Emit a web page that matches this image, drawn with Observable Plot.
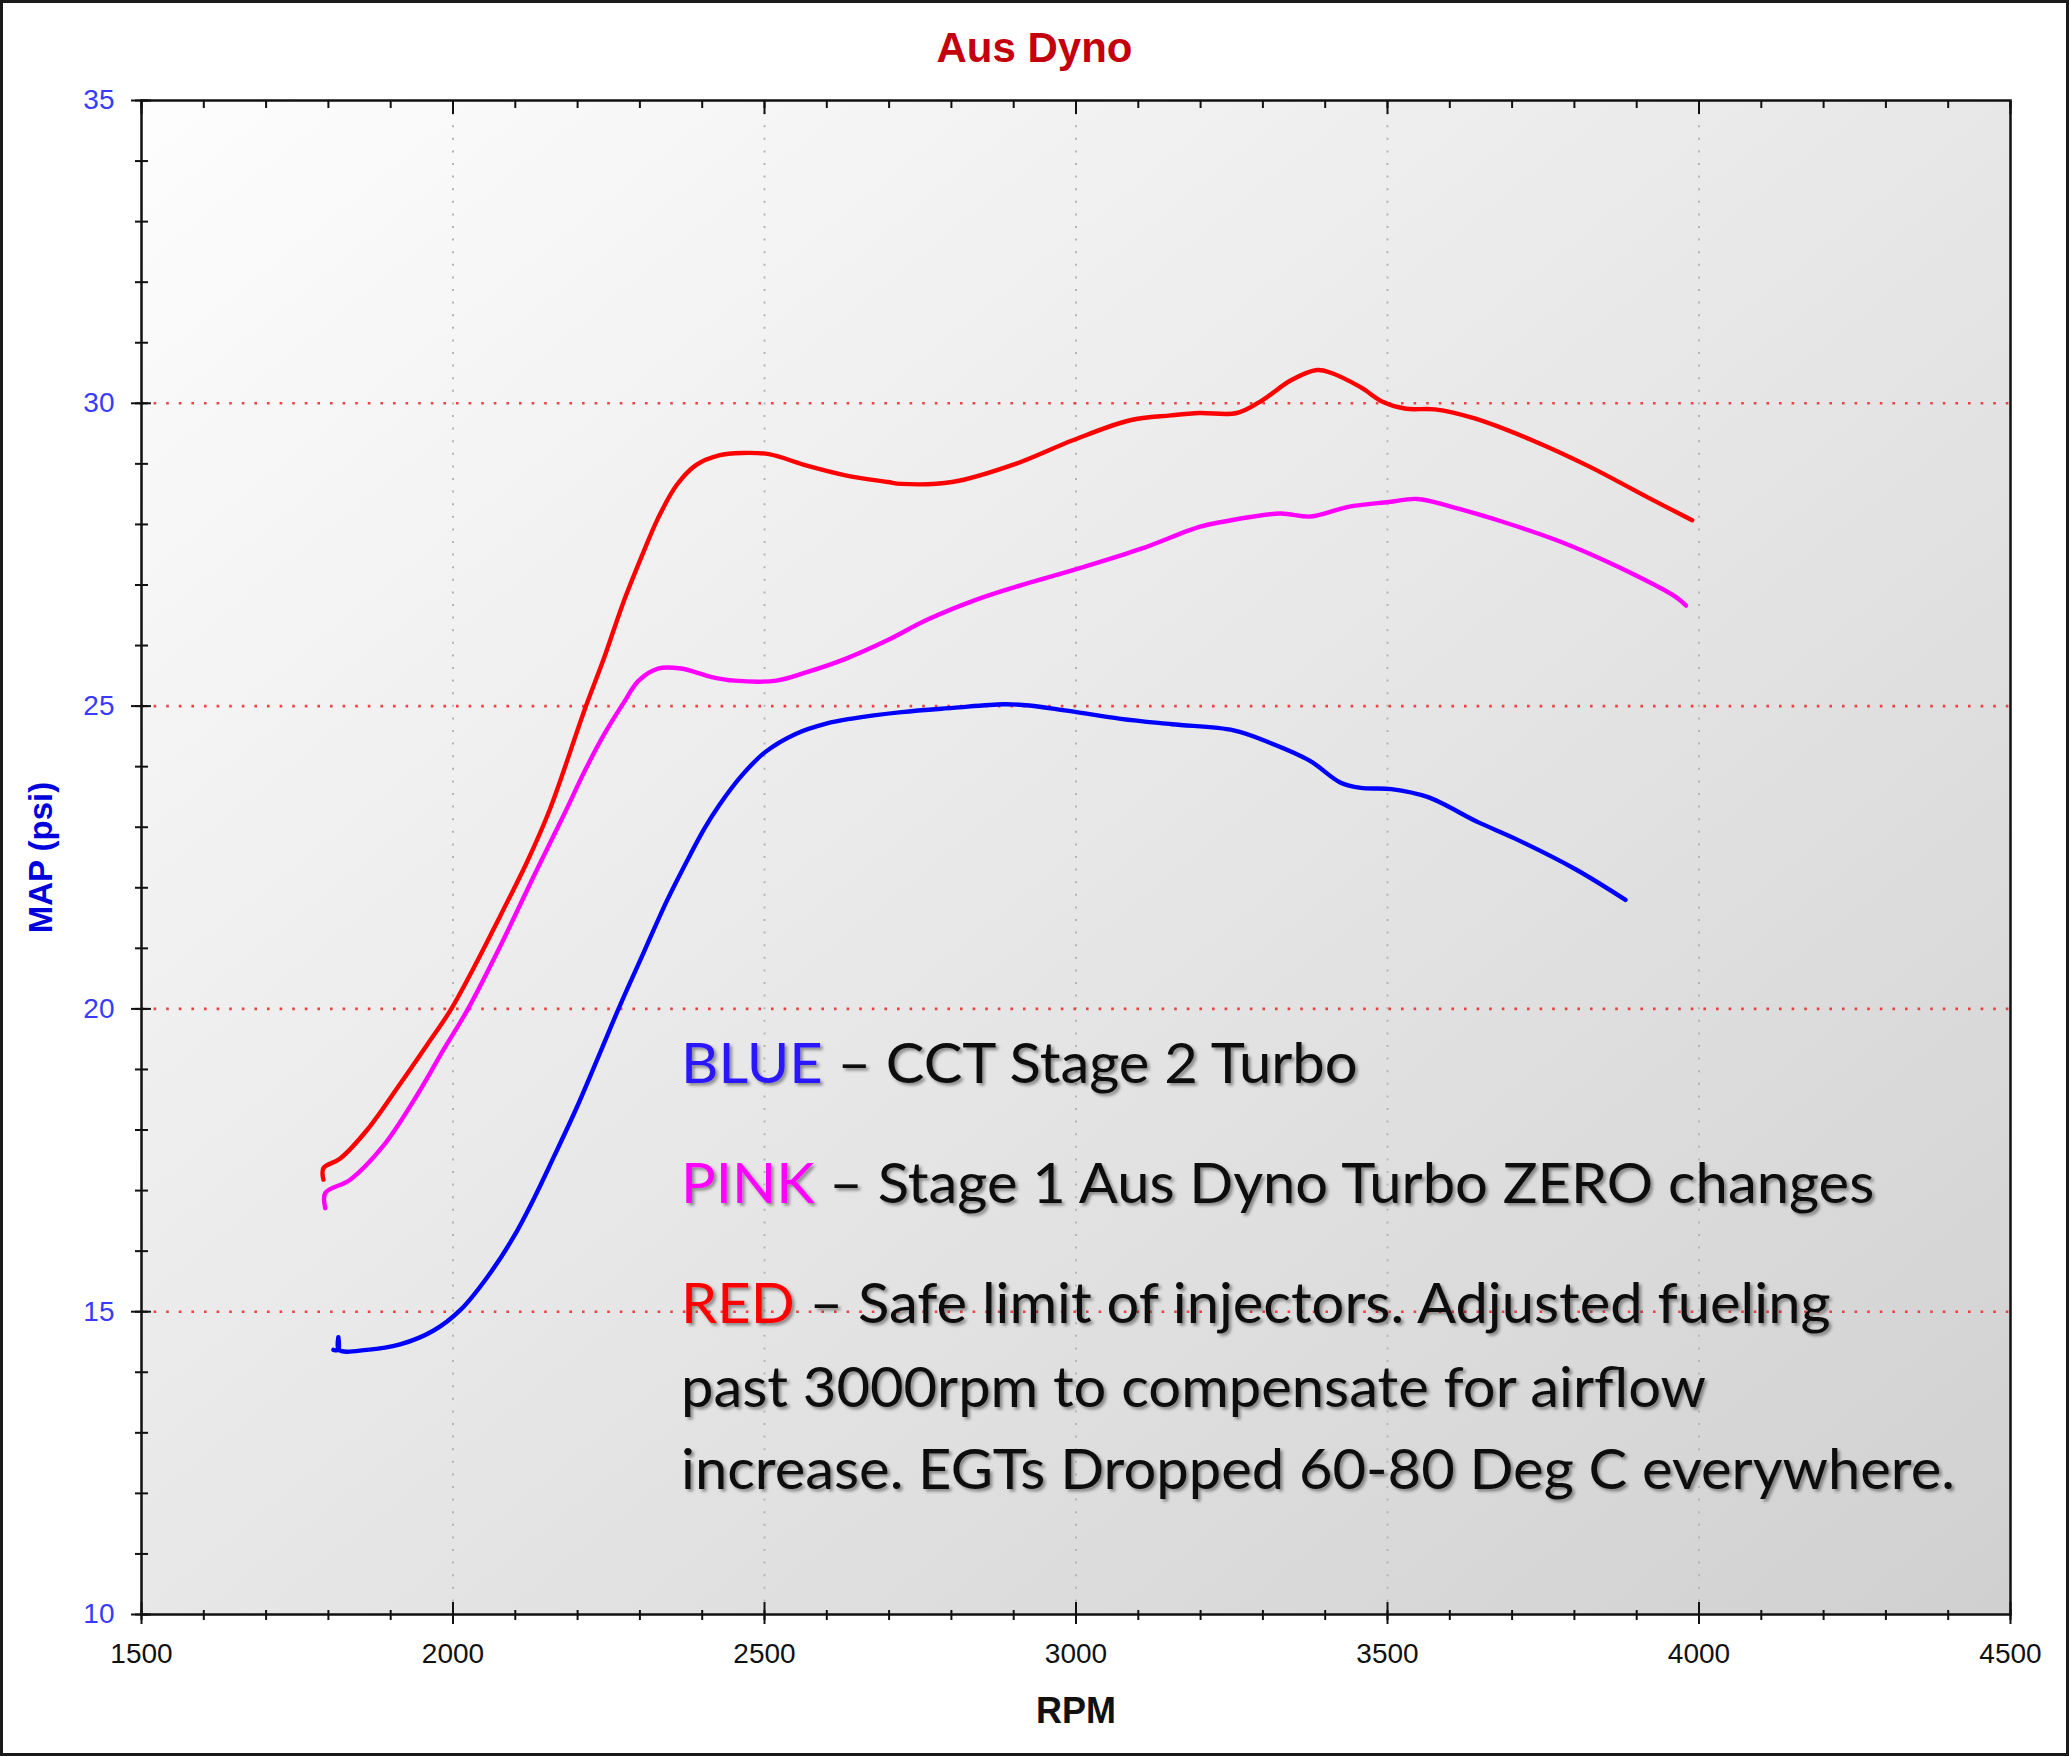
<!DOCTYPE html>
<html><head><meta charset="utf-8">
<script src="https://cdn.jsdelivr.net/npm/d3@7"></script>
<script src="https://cdn.jsdelivr.net/npm/@observablehq/plot@0.6"></script>
<style>
html,body{margin:0;padding:0;background:#fff;overflow:hidden;}
#wrap{position:relative;width:2069px;height:1756px;background:#fff;}
#title{position:absolute;top:27px;left:0;width:2069px;text-align:center;font:bold 42px "Liberation Sans",Arial,sans-serif;line-height:1;color:#c4000c;}
#chart{position:absolute;top:80px;left:0;}
#border{position:absolute;left:0;top:0;width:2069px;height:1756px;box-sizing:border-box;border:3px solid #1a1a1a;pointer-events:none;}
</style></head><body>
<div id="wrap"><div id="title">Aus Dyno</div><div id="chart"></div><div id="border"></div></div>
<script>
// ---- data (RPM, MAP psi) ----
const blueRun = [[1808,14.37],[1816,14.37],[1816,14.58],[1817,14.37],[1862,14.37],[1915,14.46],[1969,14.69],[2012,15.03],[2055,15.57],[2097,16.23],[2130,16.87],[2162,17.56],[2199,18.38],[2237,19.30],[2269,20.08],[2306,20.93],[2344,21.80],[2381,22.55],[2403,22.97],[2427,23.36],[2464,23.86],[2501,24.24],[2550,24.54],[2599,24.71],[2638,24.79],[2720,24.90],[2802,24.97],[2884,25.03],[2925,25.01],[2982,24.93],[3072,24.79],[3154,24.70],[3253,24.60],[3310,24.40],[3375,24.10],[3424,23.74],[3457,23.65],[3506,23.63],[3564,23.50],[3646,23.08],[3703,22.82],[3801,22.31],[3882,21.80]];
const pinkRun = [[1795,16.71],[1795,16.96],[1835,17.18],[1889,17.75],[1942,18.57],[1985,19.33],[2023,19.98],[2076,21.04],[2130,22.20],[2151,22.64],[2181,23.27],[2212,23.94],[2243,24.54],[2273,25.04],[2298,25.42],[2329,25.62],[2366,25.62],[2415,25.48],[2452,25.42],[2519,25.42],[2568,25.56],[2630,25.78],[2698,26.09],[2760,26.42],[2838,26.75],[2903,26.97],[3013,27.30],[3105,27.60],[3198,27.96],[3234,28.04],[3327,28.18],[3377,28.13],[3437,28.29],[3502,28.37],[3548,28.42],[3603,28.29],[3686,28.04],[3779,27.71],[3870,27.30],[3963,26.80],[3979,26.66]];
const redRun = [[1792,17.18],[1792,17.37],[1819,17.53],[1862,18.0],[1915,18.76],[1958,19.40],[1996,19.98],[2039,20.79],[2076,21.54],[2119,22.43],[2156,23.31],[2212,24.96],[2243,25.81],[2273,26.70],[2304,27.50],[2329,28.10],[2359,28.65],[2390,28.98],[2427,29.14],[2464,29.18],[2507,29.16],[2568,28.97],[2630,28.81],[2698,28.70],[2719,28.67],[2801,28.70],[2903,29.0],[2995,29.39],[3087,29.72],[3152,29.80],[3198,29.84],[3258,29.84],[3299,30.05],[3345,30.38],[3387,30.55],[3410,30.50],[3456,30.27],[3493,30.02],[3530,29.91],[3576,29.90],[3640,29.75],[3732,29.39],[3825,28.95],[3917,28.45],[3989,28.07]];

const xTicks = [1500,2000,2500,3000,3500,4000,4500];
const xMinorTicks = d3.range(1500, 4501, 100);
const xGridLines = [2000,2500,3000,3500,4000];
const yTicks = [10,15,20,25,30,35];
const yMinorTicks = d3.range(10, 36, 1);
const yGridLines = [15,20,25,30];

const seriesColors = {blue: "#0000ff", pink: "#ff00ff", red: "#ff0000"};

const notes = [
  [{t: "BLUE", c: "#2a14ff"}, {t: " \u2013 CCT Stage 2 Turbo", c: "#111"}],
  [{t: "PINK", c: "#ff00ff"}, {t: " \u2013 Stage 1 Aus Dyno Turbo ZERO changes", c: "#111"}],
  [{t: "RED", c: "#ff0000"}, {t: " \u2013 Safe limit of injectors. Adjusted fueling", c: "#111"}],
  [{t: "past 3000rpm to compensate for airflow", c: "#111"}],
  [{t: "increase. EGTs Dropped 60-80 Deg C everywhere.", c: "#111"}]
];

const rows = (pairs) => pairs.map(([rpm, psi]) => ({rpm, psi}));
const font = '"Liberation Sans", Arial, sans-serif';
const plain = d => String(d);

const chart = Plot.plot({
  width: 2069, height: 1676,
  marginTop: 20, marginRight: 59, marginBottom: 142, marginLeft: 141,
  x: {domain: [1500, 4500], label: null},
  y: {domain: [10, 35], label: null},
  style: {fontFamily: font, background: "transparent", overflow: "visible"},
  marks: [
    Plot.frame({fill: "url(#bgGrad)"}),
    Plot.gridX(xGridLines, {stroke: "#b5b5b5", strokeOpacity: 1, strokeWidth: 2, strokeDasharray: "2,10.6"}),
    Plot.gridY(yGridLines, {stroke: "#ee3030", strokeOpacity: 0.9, strokeWidth: 2.6, strokeDasharray: "2.6,10"}),
    Plot.line(rows(blueRun), {x: "rpm", y: "psi", stroke: seriesColors.blue, strokeWidth: 4.4, curve: "catmull-rom"}),
    Plot.line(rows(pinkRun), {x: "rpm", y: "psi", stroke: seriesColors.pink, strokeWidth: 4.4, curve: "catmull-rom"}),
    Plot.line(rows(redRun), {x: "rpm", y: "psi", stroke: seriesColors.red, strokeWidth: 4.4, curve: "catmull-rom"}),
    Plot.axisX(xMinorTicks, {anchor: "bottom", tickSize: 10, dy: -4, fill: "none", stroke: "#111", strokeWidth: 2, label: null}),
    Plot.axisX(xTicks, {anchor: "bottom", tickSize: 22, dy: -12, fill: "none", stroke: "#111", strokeWidth: 2, label: null}),
    Plot.axisX(xTicks, {anchor: "bottom", tickSize: 0, tickPadding: 29, fontSize: 28, fill: "#111", tickFormat: plain, label: null}),
    Plot.axisX(xMinorTicks, {anchor: "top", tickSize: 7, dy: 7, fill: "none", stroke: "#111", strokeWidth: 2, label: null}),
    Plot.axisX(xTicks, {anchor: "top", tickSize: 13, dy: 13, fill: "none", stroke: "#111", strokeWidth: 2, label: null}),
    Plot.axisY(yMinorTicks, {anchor: "left", tickSize: 13, dx: 7, fill: "none", stroke: "#111", strokeWidth: 2, label: null}),
    Plot.axisY(yTicks, {anchor: "left", tickSize: 20, dx: 10, fill: "none", stroke: "#111", strokeWidth: 2, label: null}),
    Plot.axisY(yTicks, {anchor: "left", tickSize: 0, tickPadding: 27, fontSize: 28, fill: "#3a3aff", tickFormat: plain, label: null}),
    Plot.frame({stroke: "#111", strokeWidth: 2.5}),
    Plot.text(["RPM"], {text: d => d, frameAnchor: "bottom", dy: 97, textAnchor: "middle", lineAnchor: "middle", fontSize: 36, fontWeight: "bold", fill: "#111"}),
    Plot.text(["MAP (psi)"], {text: d => d, frameAnchor: "left", dx: -100, rotate: -90, textAnchor: "middle", lineAnchor: "middle", fontSize: 33, fontWeight: "bold", fill: "#0000dd"})
  ]
});

document.getElementById("chart").appendChild(chart);

const svg = d3.select(chart);
const defs = svg.insert("defs", ":first-child");
const grad = defs.append("linearGradient").attr("id", "bgGrad").attr("x1", 0).attr("y1", 0).attr("x2", 1).attr("y2", 1);
grad.append("stop").attr("offset", "0%").attr("stop-color", "#fdfdfd");
grad.append("stop").attr("offset", "50%").attr("stop-color", "#e7e7e7");
grad.append("stop").attr("offset", "100%").attr("stop-color", "#d0d0d0");
const filt = defs.append("filter").attr("id", "txtShadow").attr("x", "-5%").attr("y", "-20%").attr("width", "110%").attr("height", "150%");
filt.append("feDropShadow").attr("dx", 2.5).attr("dy", 2.5).attr("stdDeviation", 1.6).attr("flood-color", "#000").attr("flood-opacity", 0.4);

// annotation block (baselines in svg pixels)
const noteBaselines = [1003, 1123, 1243, 1327, 1409];
const noteLeft = 681, noteWidth = 1274;
const g = svg.append("g").attr("font-family", "Lato, 'Open Sans', sans-serif").attr("font-size", 57).attr("text-anchor", "start").attr("filter", "url(#txtShadow)");
const texts = notes.map((segs, i) => {
  const t = g.append("text").attr("x", 0).attr("y", noteBaselines[i]).attr("text-anchor", "start");
  segs.forEach(s => t.append("tspan").attr("fill", s.c).text(s.t));
  return t;
});
const maxW = d3.max(texts, t => t.node().getComputedTextLength());
const sx = maxW > 0 ? noteWidth / maxW : 1;
g.attr("transform", `translate(${noteLeft},0) scale(${sx},1)`);
</script>
</body></html>
